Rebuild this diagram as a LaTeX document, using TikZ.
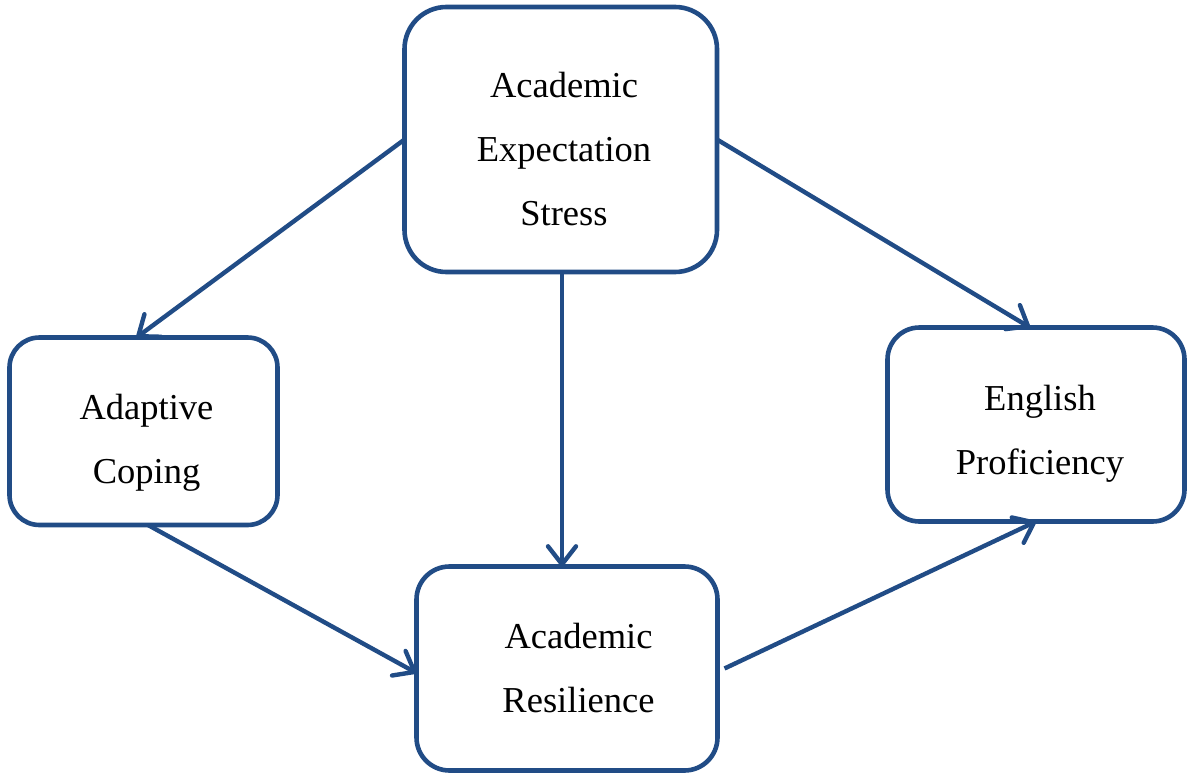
\documentclass[tikz,border=0pt]{standalone}
\usepackage{fontspec}
\setmainfont{Liberation Serif}
\usetikzlibrary{arrows.meta}
\definecolor{boxblue}{RGB}{33,76,134}
\tikzset{
  box/.style={draw=boxblue, line width=4.6pt, rectangle, inner sep=0pt, outer sep=0pt},
  txt/.style={align=center, anchor=north, inner sep=0pt, font=\fontsize{36.5}{64}\selectfont},
  link/.style={draw=boxblue, line width=4.4pt, -{Straight Barb[length=18pt,width=28pt,round]}}
}
\begin{document}
\begin{tikzpicture}[x=1pt,y=-1pt]
\useasboundingbox (0,0) rectangle (1200,779);
\node[box, rounded corners=42pt, minimum width=312.5pt, minimum height=265pt] (aes) at (560.75,139.5) {};
\node[box, rounded corners=30pt, minimum width=268pt, minimum height=187.5pt] (ac) at (143.5,431.25) {};
\node[box, rounded corners=32pt, minimum width=297pt, minimum height=194pt] (ep) at (1036,424.5) {};
\node[box, rounded corners=33pt, minimum width=301pt, minimum height=204pt] (ar) at (567,668.5) {};
\node[txt] (aestxt) at (564,72) {Academic\\Expectation\\Stress};
\node[txt] (actxt) at (146.5,394) {Adaptive\\Coping};
\node[txt] (eptxt) at (1040,385) {English\\Proficiency};
\node[txt] (artxt) at (578.5,623) {Academic\\Resilience};
\draw[link] (aes.west) -- ([xshift=-7pt]ac.north);
\draw[link] ([xshift=1.25pt]aes.south) -- ([xshift=-5pt]ar.north);
\draw[link] (aes.east) -- ([xshift=-6pt]ep.north);
\draw[link] ([xshift=4.5pt]ac.south) -- ([yshift=-4.5pt]ar.west);
\draw[link] ([xshift=7pt]ar.east) -- (ep.south);
\end{tikzpicture}
\end{document}
